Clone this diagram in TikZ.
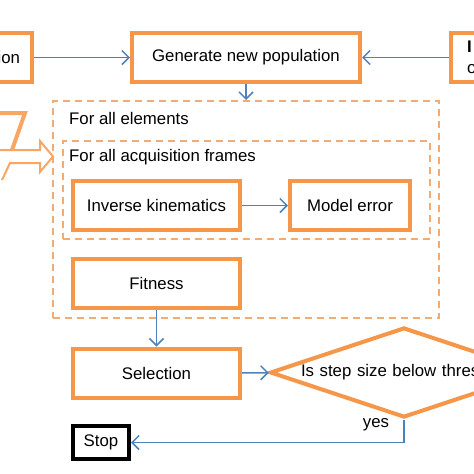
\documentclass[tikz,border=0pt]{standalone}
\usepackage{fontspec}
\setmainfont{Liberation Sans}
\usetikzlibrary{arrows.meta,shapes.geometric}
\definecolor{boxorange}{RGB}{245,150,72}
\definecolor{dashorange}{RGB}{240,172,115}
\definecolor{flowblue}{RGB}{79,129,189}
\tikzset{
  box/.style={draw=boxorange,line width=4pt,minimum height=49pt},
  group/.style={draw=dashorange,line width=2pt,dash pattern=on 7pt off 5pt},
  flow/.style={draw=flowblue,line width=1.5pt,-{Straight Barb[length=7pt,width=14pt]}},
  txt/.style={inner sep=0pt}
}
\begin{document}
\begin{tikzpicture}[x=1pt,y=-1pt,font=\fontsize{16.8}{21}\selectfont]
  \useasboundingbox (0,0) rectangle (474,474);
  \clip (0,0) rectangle (474,474);
  \node[box,anchor=east,text width=80pt,align=right,inner xsep=12pt] (init) at (34,57.5) {ion};
  \node[box,minimum width=228pt] (gen) at (246,57.5) {Generate new population};
  \node[box,anchor=west,text width=60pt,align=left,inner xsep=16pt] (source) at (449,57.5) {\textbf{I}\\o};
  \node[group,minimum width=386pt,minimum height=217pt] (elements) at (246,209.5) {};
  \node[txt,anchor=west] (elementsText) at (69,118) {For all elements};
  \node[group,minimum width=367pt,minimum height=98pt] (frames) at (246.5,190) {};
  \node[txt,anchor=west] (framesText) at (69,157) {For all acquisition frames};
  \node[box,minimum width=167pt] (kin) at (156.5,205.5) {Inverse kinematics};
  \node[box,minimum width=120pt] (err) at (350,205.5) {Model error};
  \node[box,minimum width=167pt] (fit) at (156.5,283.5) {Fitness};
  \node[box,minimum width=167pt] (sel) at (156.5,373) {Selection};
  \node[box,shape=diamond,aspect=3,minimum width=268pt,minimum height=90pt,inner sep=0pt,text width=206pt,align=left] (cond) at (404,372.5) {Is step size below thres};
  \node[txt] (yes) at (376,425) {yes};
  \node[draw=black,line width=4pt,minimum width=56pt,minimum height=33pt,inner sep=0pt] (stop) at (101,442.5) {Stop};
  % hollow arrow coming in from the left
  \draw[boxorange!85,line width=4pt] (-2,113) -- (25,113) -- (12,150);
  \draw[boxorange!85,line width=2pt] (-2,150) -- (40,150) -- (40,141) -- (53,156.5) -- (40,172) -- (40,163) -- (10,163) -- (2,180);
  \draw[flow] (init) -- (gen);
  \draw[flow] (source) -- (gen);
  \draw[flow] (gen) -- (elements);
  \draw[flow] (kin) -- (err);
  \draw[flow] (fit) -- (sel);
  \draw[flow] (sel) -- (cond);
  \draw[flow] (cond.south) |- (stop);
\end{tikzpicture}
\end{document}
